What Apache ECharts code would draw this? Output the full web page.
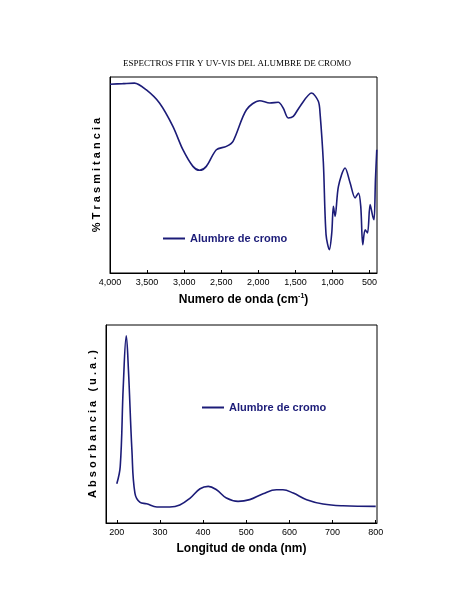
<!DOCTYPE html><html><head><meta charset="utf-8">
<script src="https://cdn.jsdelivr.net/npm/echarts@6/dist/echarts.min.js"></script>
<style>html,body{margin:0;background:#fff}#c{width:474px;height:613px}</style></head><body><div id="c"></div>
<script>
const ftirWave=[4000,3829,3671,3513,3333,3152,3017,2882,2792,2701,2566,2431,2341,2160,1980,1845,1732,1665,1597,1529,1439,1281,1191,1168,1123,1087,1042,1010,988,965,920,830,762,695,650,619,592,560,528,493,457,439,421,403];
const ftirT=[96.3,96.6,96.9,93.5,86.7,74.8,62.9,54.4,52.4,54.4,62.9,64.6,67.2,83.3,87.9,86.7,87.1,84.2,79.1,79.9,85.0,91.8,87.6,81.6,56.1,19.6,11.9,20.4,34.0,28.9,44.2,53.6,45.9,38.3,40.8,34.0,14.5,22.1,20.4,34.9,28.9,27.2,47.6,62.9];
const uvNm=[200,208,215,222,227,235,242,254,269,293,323,346,370,393,412,431,454,481,508,539,570,585,609,640,678,724,800];
const uvAbs=[19.8,28.6,68.9,94.5,77.3,37.0,15.1,10.4,9.7,8.1,8.1,9.1,12.6,17.3,18.5,16.8,12.6,10.9,11.8,14.8,16.8,16.8,15.1,11.8,9.6,8.7,8.4];
const ftirTicks=[500,1000,1500,2000,2500,3000,3500,4000];
const uvTicks=[200,300,400,500,600,700,800];
const C='#1c1c78';
const ch=echarts.init(document.getElementById('c'));
const lbl={color:'#000',fontFamily:'Liberation Sans',fontSize:9};
const nameSt={color:'#000',fontFamily:'Liberation Sans',fontSize:12,fontWeight:'bold'};
function xa(i,min,max,inv,ticks,name,gap){return {gridIndex:i,type:'value',min,max,inverse:inv,name,nameLocation:'middle',nameGap:gap,nameTextStyle:Object.assign({},nameSt,{rich:{sup:{fontSize:7,fontWeight:'bold',verticalAlign:'top',padding:[0,0,6,0]},b:{fontSize:12,fontWeight:'bold'}}}),
 axisLine:{lineStyle:{color:'#000',width:1}},axisTick:{customValues:ticks,length:-3,lineStyle:{color:'#000'}},axisLabel:Object.assign({customValues:ticks,margin:5},lbl),splitLine:{show:false}};}
function ya(i,name){return {gridIndex:i,type:'value',min:0,max:100,name,nameLocation:'middle',nameGap:8,nameTextStyle:Object.assign({},nameSt,{fontSize:11}),axisLine:{lineStyle:{color:'#000'}},axisTick:{show:false},axisLabel:{show:false},splitLine:{show:false}};}
ch.setOption({animation:false,
title:{text:'ESPECTROS FTIR Y UV-VIS DEL ALUMBRE DE CROMO',left:'center',top:54,textStyle:{fontFamily:'Liberation Serif',fontSize:9,fontWeight:'normal',color:'#000'}},
grid:[{left:110,right:97,top:77,height:196,show:true,borderColor:'#000',borderWidth:1},{left:106,right:97,top:325,height:198,show:true,borderColor:'#000',borderWidth:1}],
xAxis:[xa(0,400,4000,true,ftirTicks,'{b|Numero de onda (cm}{sup|-1}{b|)}',20),xa(1,175,803,false,uvTicks,'Longitud de onda (nm)',20)],
yAxis:[ya(0,'% T r a s m i t a n c i a'),ya(1,'A b s o r b a n c i a   ( u . a . )')],
legend:[{data:['A'],left:158,top:228,itemWidth:22,itemHeight:2,icon:'rect',formatter:'Alumbre de cromo',textStyle:{fontFamily:'Liberation Sans',fontSize:11,fontWeight:'bold',color:C}},
{data:['B'],left:197,top:397,itemWidth:22,itemHeight:2,icon:'rect',formatter:'Alumbre de cromo',textStyle:{fontFamily:'Liberation Sans',fontSize:11,fontWeight:'bold',color:C}}],
series:[{name:'A',type:'line',xAxisIndex:0,yAxisIndex:0,data:ftirWave.map((w,i)=>[w,ftirT[i]]),smooth:0.3,showSymbol:false,lineStyle:{color:C,width:1.6},itemStyle:{color:C}},
{name:'B',type:'line',xAxisIndex:1,yAxisIndex:1,data:uvNm.map((w,i)=>[w,uvAbs[i]]),smooth:0.4,showSymbol:false,lineStyle:{color:C,width:1.6},itemStyle:{color:C}}]
});
</script></body></html>
